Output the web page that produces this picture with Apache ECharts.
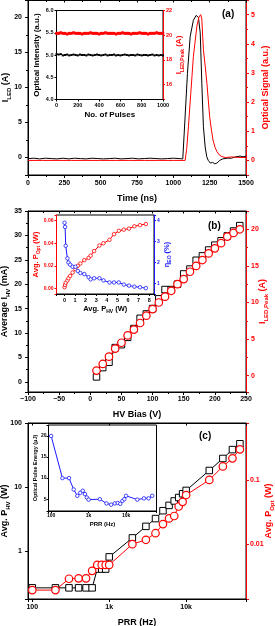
<!DOCTYPE html>
<html><head><meta charset="utf-8">
<script src="https://cdn.jsdelivr.net/npm/echarts@6/dist/echarts.min.js"></script>
<style>html,body{margin:0;padding:0;background:#fff}#c{width:275px;height:626px}</style>
</head><body><div id="c"></div>
<script>
// ---------- Panel (a): pulse waveforms ----------
const timeLED = [0,40,80,120,160,200,240,280,320,360,400,440,480,520,560,600,640,680,720,760,800,840,880,920,960,1000,1040,1065,1081,1097,1116,1138,1157,1173,1185,1196,1207,1219,1230,1240,1255,1270,1285,1300,1320,1340,1370,1400,1430,1460,1480,1500];
const iLED = [-0.15,-0.1,-0.2,-0.1,-0.15,-0.2,-0.1,-0.2,-0.1,-0.15,-0.2,-0.1,-0.15,-0.2,-0.15,-0.1,-0.2,-0.15,-0.1,-0.2,-0.15,-0.1,-0.15,-0.2,-0.15,-0.1,-0.15,-0.2,5.8,12,17.3,19.6,20.3,20,17.8,10.6,4.4,1.5,0.1,-0.4,-0.8,-0.7,-0.9,-0.8,-0.4,-0.2,-0.1,-0.1,0.1,0.2,0.1,0.2];
const timeOpt = [0,100,200,300,400,500,600,700,800,900,1000,1081,1092,1104,1120,1138,1162,1175,1188,1196,1207,1220,1231,1250,1262,1273,1287,1300,1318,1335,1360,1400,1450,1500];
const optSignal = [0,0,0,0,0,0,0,0,0,0,0,0,0.4,1.16,2.3,3.56,4.6,4.9,5.0,4.85,3.8,3.2,2.65,1.5,1.05,0.7,0.45,0.3,0.18,0.13,0.1,0.12,0.1,0.1];
// inset (a)
const pulseNo = [0,20,40,60,80,100,120,140,160,180,200,220,240,260,280,300,320,340,360,380,400,420,440,460,480,500,520,540,560,580,600,620,640,660,680,700,720,740,760,780,800,820,840,860,880,900,920,940,960,980,1000];
const pulseIntensity = [5.02,5.01,5.02,4.99,5.0,5.01,4.99,5.0,5.01,5.0,4.99,5.01,5.0,5.0,4.99,5.01,5.0,4.99,5.0,5.01,5.0,4.99,5.0,5.01,4.99,5.0,5.0,5.01,4.99,5.0,4.99,5.0,5.01,5.0,4.99,5.0,5.0,4.99,5.01,5.0,4.99,5.0,5.0,4.99,5.0,5.01,4.99,5.0,4.99,5.0,4.99];
const pulsePeak = [20.15,20.15,20.2,20.15,20.15,20.1,20.15,20.15,20.2,20.15,20.15,20.15,20.1,20.15,20.15,20.15,20.2,20.15,20.15,20.15,20.1,20.15,20.15,20.2,20.15,20.15,20.15,20.15,20.1,20.15,20.15,20.2,20.15,20.15,20.15,20.1,20.15,20.15,20.15,20.2,20.15,20.15,20.15,20.1,20.15,20.15,20.15,20.2,20.15,20.15,20.15];

// ---------- Panel (b): HV bias sweep ----------
const hvBias = [10,20,30,40,50,60,70,80,90,100,110,120,130,140,150,160,170,180,190,200,210,220,230,240];
const avgIHV = [1,2.9,4,7,7.6,9.1,10.9,13,13.9,15,17,18.9,18.9,20,22.1,23.1,24.9,25.8,27,28,28.9,29.9,30.9,32];
const iLEDPeak = [0.7,1.6,2.6,3.7,4.5,5.5,6.3,7.2,8.2,9.1,10,10.8,11.6,12.5,13.2,14.2,15,15.8,16.7,17.4,18.1,19,19.5,20];
// inset (b)
const pHV = [0.01,0.06,0.12,0.28,0.38,0.54,0.77,1.04,1.26,1.5,1.87,2.28,2.47,2.8,3.3,3.68,4.25,4.68,5.13,5.6,6.09,6.6,7.13,7.68];
const pOptB = [0.001,0.003,0.005,0.007,0.009,0.011,0.014,0.017,0.02,0.022,0.025,0.027,0.029,0.033,0.038,0.04,0.043,0.048,0.051,0.052,0.053,0.055,0.056,0.057];
const etaEO = [3.9,3.7,2.8,2.2,2.0,1.9,1.8,1.8,1.6,1.5,1.45,1.3,1.2,1.25,1.25,1.15,1.05,1.05,1.05,0.95,0.9,0.85,0.82,0.78];

// ---------- Panel (c): repetition rate ----------
const prr = [100,200,300,400,500,600,700,800,900,1000,2000,3000,4000,5000,6000,7000,8000,9000,10000,20000,30000,40000,50000];
const avgPHV = [0.27,0.27,0.27,0.27,0.27,0.27,0.53,0.53,0.53,0.82,1.62,2.45,3.24,4.3,5.2,6.1,6.9,7.9,8.9,18.2,28,38.5,47.5];
const avgPOpt = [0.0019,0.0019,0.00286,0.0029,0.0029,0.0038,0.0047,0.0047,0.0047,0.0047,0.0099,0.0116,0.0147,0.0204,0.025,0.0273,0.0384,0.0454,0.058,0.1,0.162,0.217,0.3];
const pulseEnergy = [20,10,10,7.3,5.8,6.5,7.0,6.2,5.4,4.9,5.0,4.0,3.7,4.0,4.1,3.9,4.6,5.0,5.8,4.9,5.2,5.2,5.8];

const F = '"Liberation Sans", Arial, sans-serif';
const RED = '#ff0000', BLUE = '#1a1aff', BLK = '#000000';
const zip = (a, b) => a.map((v, i) => [v, b[i]]);

function stepFmt(step, dec) {
  return v => {
    const q = v / step;
    if (Math.abs(q - Math.round(q)) > 1e-6) return '';
    return dec == null ? String(Math.round(v * 1e6) / 1e6) : v.toFixed(dec);
  };
}
function logFmt(map) {
  return v => {
    const l = Math.log10(v);
    if (Math.abs(l - Math.round(l)) > 1e-6) return '';
    const r = Math.round(l);
    return map[r] != null ? map[r] : '';
  };
}
function nameStyle(size, color) {
  return {
    fontFamily: F, fontWeight: 'bold', fontSize: size, color: color,
    rich: {
      t: {fontFamily: F, fontWeight: 'bold', fontSize: size, color: color, verticalAlign: 'middle', lineHeight: size + 4},
      s: {fontFamily: F, fontWeight: 'bold', fontSize: Math.round(size * 0.68), color: color, verticalAlign: 'bottom', lineHeight: size + 4}
    }
  };
}
function axis(o) {
  const color = o.color || BLK;
  const a = {
    type: o.type || 'value', gridIndex: o.grid, position: o.position,
    min: o.min, max: o.max, scale: true,
    name: o.name || '', nameLocation: 'middle', nameGap: o.nameGap, nameMoveOverlap: false,
    nameRotate: o.rotate, nameTextStyle: nameStyle(o.nameSize || 8, o.nameColor || color),
    axisLine: {show: true, onZero: false, lineStyle: {color: color, width: o.lw || 1}},
    axisTick: {show: true, inside: !!o.inside, length: o.tickLen || 3, lineStyle: {color: color, width: 1}},
    minorTick: {show: !!o.minor, splitNumber: 2, length: 2, lineStyle: {color: color, width: 1}},
    axisLabel: {show: !o.noLabel, fontFamily: F, fontWeight: 'bold', fontSize: o.labelSize || 7, color: color, margin: o.margin || 4, formatter: o.fmt || (v => String(v)), hideOverlap: false, showMinLabel: true, showMaxLabel: true},
    splitLine: {show: false}
  };
  if (o.interval != null) a.interval = o.interval;
  if (o.splitNumber != null) a.splitNumber = o.splitNumber;
  return a;
}

const grids = [
  {left: 28, top: 0, width: 218, height: 175},
  {left: 56.5, top: 10.5, width: 106.5, height: 89},
  {left: 28, top: 211, width: 218, height: 181},
  {left: 56.5, top: 215, width: 97.5, height: 79},
  {left: 28, top: 423, width: 218, height: 176},
  {left: 48.5, top: 425, width: 108, height: 86}
].map(g => Object.assign({containLabel: false, outerBoundsMode: 'none', show: true, borderColor: '#000', borderWidth: 1, backgroundColor: '#fff'}, g));

const xAxes = [
  axis({grid: 0, position: 'bottom', min: 0, max: 1500, interval: 250, name: '{t|Time (ns)}', nameGap: 17, nameSize: 9, labelSize: 7, margin: 5, minor: true}),
  axis({grid: 1, position: 'bottom', min: 0, max: 1000, interval: 200, name: '{t|No. of Pulses}', nameGap: 9, nameSize: 8, labelSize: 5.5, margin: 3, tickLen: 2}),
  axis({grid: 2, position: 'bottom', min: -100, max: 250, interval: 50, name: '{t|HV Bias (V)}', nameGap: 16, nameSize: 9, labelSize: 7, margin: 4, minor: true, fmt: v => (v < 0 ? '\u2212' + (-v) : String(v))}),
  axis({grid: 3, position: 'bottom', min: -0.75, max: 8.45, splitNumber: 9, name: '{t|Avg. P}{s|HV}{t| (W)}', nameGap: 9, nameSize: 7.5, labelSize: 5.5, margin: 3, tickLen: 2, fmt: stepFmt(1)}),
  axis({grid: 4, type: 'log', position: 'bottom', min: 88, max: 60000, name: '{t|PRR (Hz)}', nameGap: 17, nameSize: 9, labelSize: 7, margin: 5, fmt: logFmt({2: '100', 3: '1k', 4: '10k'})}),
  axis({grid: 5, type: 'log', position: 'bottom', min: 85, max: 65000, name: '{t|PRR (Hz)}', nameGap: 8, nameSize: 6, labelSize: 5, margin: 2, tickLen: 2, fmt: logFmt({2: '100', 3: '1k', 4: '10k'})}),
  // mirrored top frame axes with inward ticks
  axis({grid: 0, position: 'top', min: 0, max: 1500, interval: 250, inside: true, tickLen: 2.5, noLabel: true, minor: true}),
  axis({grid: 2, position: 'top', min: -100, max: 250, interval: 50, inside: true, tickLen: 2.5, noLabel: true, minor: true}),
  axis({grid: 4, type: 'log', position: 'top', min: 88, max: 60000, inside: true, tickLen: 2.5, noLabel: true})
];
const yAxes = [
  axis({grid: 0, position: 'left', min: -2.5, max: 22.5, splitNumber: 5, name: '{t|I}{s|LED}{t| (A)}', nameGap: 16, rotate: 90, nameSize: 9, labelSize: 7, margin: 6, minor: true, fmt: stepFmt(5)}),
  axis({grid: 0, position: 'right', min: -0.5, max: 5.5, splitNumber: 6, color: RED, name: '{t|Optical Signal (a.u.)}', nameGap: 13, rotate: 90, nameSize: 9, labelSize: 7, margin: 5, minor: true, fmt: stepFmt(1)}),
  axis({grid: 1, position: 'left', min: 4, max: 6, interval: 0.5, name: '{t|Optical Intensity (a.u.)}', nameGap: 14, rotate: 90, nameSize: 8, labelSize: 5.5, margin: 3, tickLen: 2, fmt: v => v.toFixed(1)}),
  axis({grid: 1, position: 'right', min: 14.8, max: 22, splitNumber: 4, color: RED, name: '{t|I}{s|LED,Peak}{t| (A)}', nameGap: 10, rotate: 90, nameSize: 8, labelSize: 5.5, margin: 3, tickLen: 2, fmt: stepFmt(2)}),
  axis({grid: 2, position: 'left', min: -2.1, max: 35, splitNumber: 7, name: '{t|Average I}{s|HV}{t| (mA)}', nameGap: 17, rotate: 90, nameSize: 9, labelSize: 7, margin: 6, minor: true, fmt: stepFmt(5)}),
  axis({grid: 2, position: 'right', min: -2.23, max: 22.5, splitNumber: 5, color: RED, name: '{t|I}{s|LED,Peak}{t| (A)}', nameGap: 10, rotate: 90, nameSize: 9, labelSize: 7, margin: 5, minor: true, fmt: stepFmt(5)}),
  axis({grid: 3, position: 'left', min: -0.005, max: 0.065, splitNumber: 3, color: RED, name: '{t|Avg. P}{s|Opt}{t| (W)}', nameGap: 15, rotate: 90, nameSize: 7.5, labelSize: 5, margin: 3, tickLen: 2, fmt: stepFmt(0.02, 2)}),
  axis({grid: 3, position: 'right', min: 0.5, max: 4.27, splitNumber: 4, color: BLUE, name: '{t|\u03b7}{s|EO}{t| (%)}', nameGap: 7, rotate: 90, nameSize: 7.5, labelSize: 5, margin: 3, tickLen: 2, fmt: stepFmt(1)}),
  axis({grid: 4, type: 'log', position: 'left', min: 0.181, max: 100, name: '{t|Avg. P}{s|HV}{t| (W)}', nameGap: 17, rotate: 90, nameSize: 9, labelSize: 7, margin: 6, fmt: logFmt({0: '1', 1: '10', 2: '100'})}),
  axis({grid: 4, type: 'log', position: 'right', min: 0.00138, max: 0.773, color: RED, name: '{t|Avg. P}{s|Opt}{t| (W)}', nameGap: 16, rotate: 90, nameSize: 9, labelSize: 7, margin: 4, fmt: logFmt({'-2': '0.01', '-1': '0.1'})}),
  axis({grid: 5, position: 'left', min: 2.2, max: 22.6, splitNumber: 4, name: '{t|Optical Pulse Energy (\u03bcJ)}', nameGap: 8, rotate: 90, nameSize: 5.5, labelSize: 5, margin: 2, tickLen: 2, fmt: stepFmt(5)})
];

const lineS = (xi, yi, data, color, extra) => Object.assign({
  type: 'line', xAxisIndex: xi, yAxisIndex: yi, data: data, showSymbol: false, symbol: 'none',
  lineStyle: {color: color, width: 1}, itemStyle: {color: color}, animation: false, silent: true
}, extra || {});
const markS = (xi, yi, data, color, sym, size, bw) => ({
  type: 'line', xAxisIndex: xi, yAxisIndex: yi, data: data, symbol: sym, symbolSize: size, showSymbol: true,
  lineStyle: {color: color, width: 1}, itemStyle: {color: '#fff', borderColor: color, borderWidth: bw},
  animation: false, silent: true, z: 3
});

const series = [
  lineS(0, 0, zip(timeLED, iLED), BLK),
  lineS(0, 1, zip(timeOpt, optSignal), RED),
  lineS(1, 2, zip(pulseNo, pulseIntensity), BLK, {showSymbol: true, symbol: 'rect', symbolSize: 2, itemStyle: {color: BLK}, z: 4}),
  lineS(1, 3, zip(pulseNo, pulsePeak), RED, {showSymbol: true, symbol: 'rect', symbolSize: [2.5, 3], lineStyle: {color: RED, width: 1}, itemStyle: {color: RED}, z: 4}),
  markS(2, 4, zip(hvBias, avgIHV), BLK, 'rect', 6.5, 1),
  markS(2, 5, zip(hvBias, iLEDPeak), RED, 'circle', 7.5, 1.2),
  Object.assign(markS(3, 6, zip(pHV, pOptB), RED, 'circle', 3.5, 0.8), {z: 5}),
  Object.assign(markS(3, 7, zip(pHV, etaEO), BLUE, 'circle', 3.5, 0.8), {z: 5}),
  markS(4, 8, zip(prr, avgPHV), BLK, 'rect', 6.5, 1),
  markS(4, 9, zip(prr, avgPOpt), RED, 'circle', 7.5, 1.2),
  Object.assign(markS(5, 10, zip(prr, pulseEnergy), BLUE, 'circle', 3.5, 0.8), {z: 5})
];

const panelLabel = (txt, x, y) => ({type: 'text', left: x, top: y, z: 10, style: {text: txt, font: 'bold 10px ' + F, fill: '#000'}});

const chart = echarts.init(document.getElementById('c'), null, {renderer: 'canvas'});
chart.setOption({
  animation: false,
  backgroundColor: '#fff',
  grid: grids, xAxis: xAxes, yAxis: yAxes, series: series,
  graphic: [panelLabel('(a)', 222, 9), panelLabel('(b)', 208, 221), panelLabel('(c)', 199, 431)]
});
</script></body></html>
